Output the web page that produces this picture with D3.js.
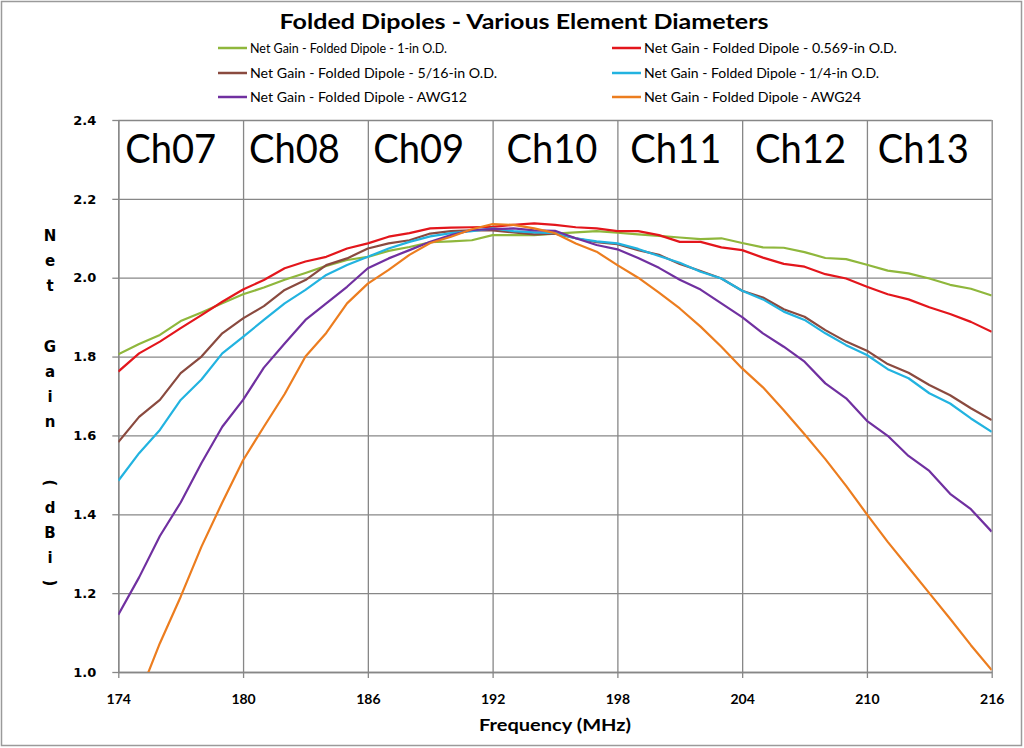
<!DOCTYPE html>
<html>
<head>
<meta charset="utf-8">
<script src="https://cdn.jsdelivr.net/npm/d3@7"></script>
<style>
  html, body { margin: 0; padding: 0; background: #fff; }
  svg { display: block; }
</style>
</head>
<body>
<svg id="chart" width="1024" height="748"></svg>
<script>
// ---------------- data ----------------
const freqs = d3.range(174, 217, 1); // 174..216 MHz

const gain1in = [1.806,1.832,1.855,1.89,1.912,1.935,1.958,1.975,1.995,2.012,2.03,2.045,2.053,2.068,2.078,2.09,2.092,2.095,2.108,2.108,2.108,2.112,2.115,2.118,2.114,2.11,2.106,2.102,2.098,2.1,2.088,2.077,2.076,2.065,2.05,2.047,2.033,2.018,2.011,1.998,1.982,1.972,1.955];
const gain0569in = [1.762,1.808,1.838,1.872,1.905,1.939,1.97,1.994,2.024,2.041,2.053,2.074,2.087,2.104,2.113,2.125,2.127,2.128,2.129,2.134,2.138,2.134,2.128,2.125,2.118,2.118,2.108,2.091,2.091,2.077,2.07,2.051,2.035,2.028,2.009,1.998,1.977,1.958,1.945,1.925,1.908,1.888,1.863];
const gain516in = [1.583,1.647,1.69,1.758,1.80,1.859,1.897,1.928,1.969,1.994,2.032,2.049,2.074,2.087,2.095,2.112,2.118,2.12,2.12,2.115,2.11,2.112,2.10,2.09,2.085,2.07,2.058,2.035,2.017,1.998,1.967,1.95,1.92,1.901,1.867,1.838,1.815,1.781,1.759,1.728,1.702,1.669,1.639];
const gain14in = [1.485,1.555,1.614,1.69,1.742,1.808,1.85,1.893,1.935,1.969,2.007,2.032,2.053,2.074,2.091,2.105,2.113,2.118,2.125,2.118,2.115,2.113,2.10,2.092,2.087,2.073,2.055,2.038,2.015,1.998,1.967,1.945,1.914,1.893,1.859,1.829,1.804,1.768,1.745,1.707,1.681,1.643,1.609];
const gainAWG12 = [1.145,1.24,1.345,1.43,1.53,1.622,1.69,1.772,1.833,1.893,1.935,1.977,2.024,2.049,2.07,2.091,2.108,2.121,2.123,2.125,2.12,2.119,2.10,2.083,2.072,2.05,2.025,1.995,1.97,1.935,1.90,1.859,1.825,1.787,1.732,1.694,1.637,1.599,1.548,1.51,1.452,1.413,1.356];
const gainAWG24 = [0.80,0.94,1.073,1.191,1.318,1.43,1.537,1.622,1.705,1.80,1.86,1.935,1.985,2.02,2.058,2.088,2.104,2.123,2.136,2.134,2.125,2.113,2.087,2.066,2.032,2.0,1.962,1.922,1.876,1.825,1.77,1.722,1.664,1.603,1.54,1.472,1.40,1.33,1.265,1.20,1.135,1.068,1.005];

const seriesNames = [
  "Net Gain - Folded Dipole - 1-in O.D.",
  "Net Gain - Folded Dipole - 0.569-in O.D.",
  "Net Gain - Folded Dipole - 5/16-in O.D.",
  "Net Gain - Folded Dipole - 1/4-in O.D.",
  "Net Gain - Folded Dipole - AWG12",
  "Net Gain - Folded Dipole - AWG24"
];
const seriesValues = [gain1in, gain0569in, gain516in, gain14in, gainAWG12, gainAWG24];
const seriesColors = ["#8fb73c", "#e3161c", "#8a4a3f", "#22b3e0", "#7030a0", "#ec7d1f"];

const xTicks = [174, 180, 186, 192, 198, 204, 210, 216];
const yTicks = [1.0, 1.2, 1.4, 1.6, 1.8, 2.0, 2.2, 2.4];
const channelLabels = ["Ch07", "Ch08", "Ch09", "Ch10", "Ch11", "Ch12", "Ch13"];
const channelStarts = [174, 180, 186, 192, 198, 204, 210];

const chartTitle = "Folded Dipoles - Various Element Diameters";
const xTitle = "Frequency (MHz)";
const yTitle = "Net Gain (dBi)";

// ---------------- layout ----------------
const svg = d3.select("#chart");
const W = 1024, H = 748;
const plot = { left: 118.3, right: 991.7, top: 120, bottom: 672 };

const x = d3.scaleLinear().domain([174, 216]).range([plot.left, plot.right]);
const y = d3.scaleLinear().domain([1.0, 2.4]).range([plot.bottom, plot.top]);

// outer frame
svg.append("rect").attr("x", 1.5).attr("y", 1.5).attr("width", W - 4).attr("height", H - 4)
  .attr("fill", "#fff").attr("stroke", "#9a9a9a").attr("stroke-width", 1.5);

// title
svg.append("text").attr("x", 524).attr("y", 29).attr("text-anchor", "middle")
  .attr("font-family", "Lato, 'Open Sans', sans-serif").attr("font-weight", "bold")
  .attr("font-size", 21.5).attr("fill", "#000")
  .attr("textLength", 489).attr("lengthAdjust", "spacingAndGlyphs")
  .text(chartTitle);

// legend
const legendCols = [218, 612];
const legendRows = [48, 73, 97];
const legendWidths = [197, 253, 247, 235, 217, 217];
const legend = svg.append("g");
seriesNames.forEach((name, i) => {
  const lx = legendCols[i % 2], ly = legendRows[Math.floor(i / 2)];
  legend.append("line").attr("x1", lx).attr("x2", lx + 29).attr("y1", ly).attr("y2", ly)
    .attr("stroke", seriesColors[i]).attr("stroke-width", 2.5);
  legend.append("text").attr("x", lx + 32).attr("y", ly + 4.5)
    .attr("font-family", "Lato, sans-serif").attr("font-size", 13).attr("fill", "#000")
    .attr("textLength", legendWidths[i]).attr("lengthAdjust", "spacingAndGlyphs")
    .text(name);
});

// grid
const gridColor = "#878787";
const gx = svg.append("g").attr("transform", `translate(0,${plot.bottom})`)
  .call(d3.axisBottom(x).tickValues(xTicks).tickSize(-(plot.bottom - plot.top)).tickFormat(""));
gx.select(".domain").remove();
gx.selectAll("line").attr("stroke", gridColor).attr("stroke-width", 1.3);

const gy = svg.append("g").attr("transform", `translate(${plot.left},0)`)
  .call(d3.axisLeft(y).tickValues(yTicks).tickSize(-(plot.right - plot.left)).tickFormat(""));
gy.select(".domain").remove();
gy.selectAll("line").attr("stroke", gridColor).attr("stroke-width", 1.3);

// axes with outside ticks + labels
const ax = svg.append("g").attr("transform", `translate(0,${plot.bottom})`)
  .call(d3.axisBottom(x).tickValues(xTicks).tickSizeInner(6).tickSizeOuter(0).tickPadding(16).tickFormat(d3.format("d")));
ax.select(".domain").attr("stroke", gridColor).attr("stroke-width", 1.3);
ax.selectAll("line").attr("stroke", gridColor).attr("stroke-width", 1.3);
ax.selectAll("text").attr("font-family", "Lato, sans-serif").attr("font-weight", "bold")
  .attr("font-size", 14).attr("fill", "#000");

const ay = svg.append("g").attr("transform", `translate(${plot.left},0)`)
  .call(d3.axisLeft(y).tickValues(yTicks).tickSizeInner(6).tickSizeOuter(0).tickPadding(16).tickFormat(d3.format(".1f")));
ay.select(".domain").attr("stroke", gridColor).attr("stroke-width", 1.3);
ay.selectAll("line").attr("stroke", gridColor).attr("stroke-width", 1.3);
ay.selectAll("text").attr("font-family", "'DejaVu Sans', sans-serif").attr("font-weight", "bold")
  .attr("font-size", 13).attr("fill", "#000");

// axis titles
svg.append("text").attr("x", (plot.left + plot.right) / 2).attr("y", 731).attr("text-anchor", "middle")
  .attr("font-family", "Lato, sans-serif").attr("font-weight", "bold").attr("font-size", 17)
  .attr("textLength", 152).attr("lengthAdjust", "spacingAndGlyphs")
  .attr("fill", "#000").text(xTitle);

// stacked (vertical) y title: letters 25px apart, a word gap adds 36px
const yt = svg.append("g");
let cy = 236;
Array.from(yTitle).forEach((ch) => {
  if (ch === " ") { cy += 36; return; }
  const t = yt.append("text").attr("x", 0).attr("y", 0).attr("text-anchor", "middle")
    .attr("dominant-baseline", "central")
    .attr("font-family", "'DejaVu Sans', sans-serif").attr("font-weight", "bold")
    .attr("font-size", 15).attr("fill", "#000").text(ch);
  if (ch === "(" || ch === ")") t.attr("transform", `translate(50,${cy}) rotate(90)`);
  else t.attr("transform", `translate(50,${cy})`);
  cy += 25;
});

// channel labels (text boxes sitting left of each column centre)
const chNudge = [-10, -11, -11.5, -3, -4, -4, -6];
const ch = svg.append("g");
channelLabels.forEach((lab, i) => {
  const x0 = x(channelStarts[i]), x1 = x(channelStarts[i] + 6);
  ch.append("text").attr("x", (x0 + x1) / 2 + chNudge[i]).attr("y", 163)
    .attr("text-anchor", "middle")
    .attr("font-family", "Lato, sans-serif").attr("font-size", 40).attr("fill", "#000")
    .attr("textLength", 91).attr("lengthAdjust", "spacingAndGlyphs")
    .text(lab);
});

// clip + series
svg.append("clipPath").attr("id", "plotclip").append("rect")
  .attr("x", plot.left).attr("y", plot.top).attr("width", plot.right - plot.left).attr("height", plot.bottom - plot.top);

const line = d3.line().x((d) => x(d[0])).y((d) => y(d[1]));
const lines = svg.append("g").attr("clip-path", "url(#plotclip)");
seriesValues.forEach((vals, i) => {
  lines.append("path").datum(freqs.map((f, k) => [f, vals[k]]))
    .attr("d", line).attr("fill", "none").attr("stroke", seriesColors[i])
    .attr("stroke-width", 2.2).attr("stroke-linejoin", "round");
});
</script>
</body>
</html>
